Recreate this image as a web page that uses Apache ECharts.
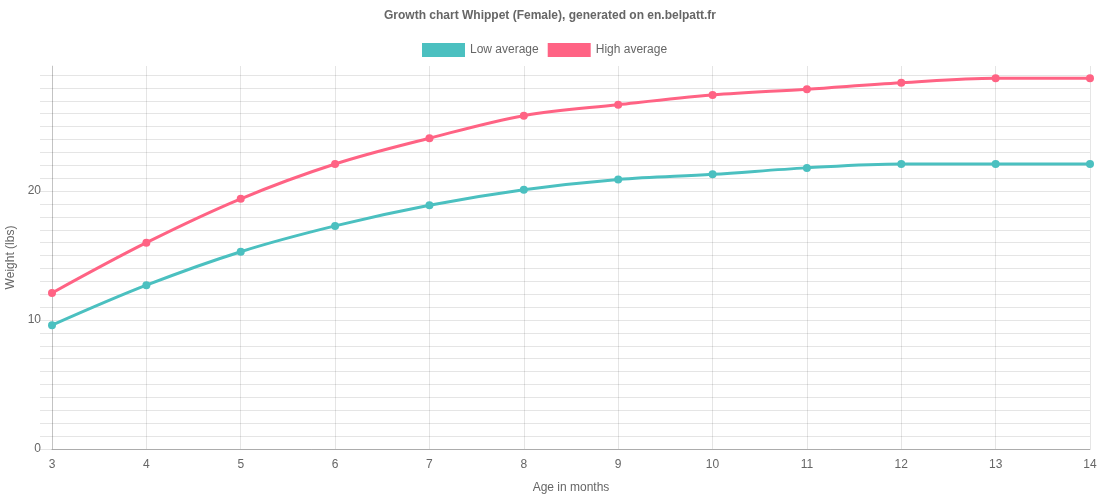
<!DOCTYPE html>
<html>
<head>
<meta charset="utf-8">
<script src="https://cdn.jsdelivr.net/npm/echarts@6/dist/echarts.min.js"></script>
<style>
  html, body { margin: 0; padding: 0; background: #fff; }
  #chart { width: 1100px; height: 500px; }
</style>
</head>
<body>
<div id="chart"></div>
<script>
// 数据 — 从图上读出来的
var ages = ['3', '4', '5', '6', '7', '8', '9', '10', '11', '12', '13', '14'];
var lowAverage = [9.6, 12.7, 15.3, 17.3, 18.9, 20.1, 20.9, 21.3, 21.8, 22.1, 22.1, 22.1];
var highAverage = [12.1, 16.0, 19.4, 22.1, 24.1, 25.85, 26.7, 27.45, 27.9, 28.4, 28.75, 28.75];

var FONT = 'Arial, "Liberation Sans", sans-serif';
var GRID_COLOR = 'rgba(0,0,0,0.1)';

var chart = echarts.init(document.getElementById('chart'));

function lineSeries(name, data, color) {
  return {
    name: name,
    type: 'line',
    data: data,
    smooth: 0.35,
    symbol: 'circle',
    symbolSize: 8,
    lineStyle: { width: 3, color: color },
    itemStyle: { color: color },
    emphasis: { disabled: true }
  };
}

var option = {
  animation: false,
  textStyle: { fontFamily: FONT },
  title: {
    text: 'Growth chart Whippet (Female), generated on en.belpatt.fr',
    left: 'center',
    top: 5,
    textStyle: { fontSize: 12, fontWeight: 'bold', color: '#666', fontFamily: FONT }
  },
  legend: {
    top: 38,
    left: 417,
    itemWidth: 43,
    itemHeight: 14,
    itemGap: 9,
    icon: 'rect',
    textStyle: { fontSize: 12, color: '#666', fontFamily: FONT },
    data: ['Low average', 'High average']
  },
  grid: { left: 52, right: 10, top: 66, bottom: 51, outerBoundsMode: 'none', containLabel: false },
  xAxis: {
    type: 'category',
    data: ages,
    boundaryGap: false,
    name: 'Age in months',
    nameLocation: 'middle',
    nameGap: 33,
    nameTextStyle: { fontSize: 12, color: '#666' },
    axisLine: { lineStyle: { color: 'rgba(0,0,0,0.25)', width: 1 } },
    axisTick: { show: false },
    axisLabel: { color: '#666', fontSize: 12, margin: 10 },
    splitLine: { show: true, lineStyle: { color: GRID_COLOR } }
  },
  yAxis: {
    type: 'value',
    min: 0,
    max: 29.7,
    interval: 1,
    name: 'Weight (lbs)',
    nameLocation: 'middle',
    nameGap: 32,
    nameTextStyle: { fontSize: 12, color: '#666' },
    axisLine: { show: true, lineStyle: { color: 'rgba(0,0,0,0.15)' } },
    axisTick: { show: true, length: 12, lineStyle: { color: GRID_COLOR } },
    axisLabel: {
      color: '#666',
      fontSize: 12,
      margin: 11,
      showMaxLabel: false,
      formatter: function(v) { return v % 10 === 0 ? String(v) : ''; }
    },
    splitLine: { show: true, showMaxLine: false, lineStyle: { color: GRID_COLOR } }
  },
  series: [
    lineSeries('Low average', lowAverage, '#4BC0C0'),
    lineSeries('High average', highAverage, '#FF6384')
  ]
};

chart.setOption(option);
</script>
</body>
</html>
